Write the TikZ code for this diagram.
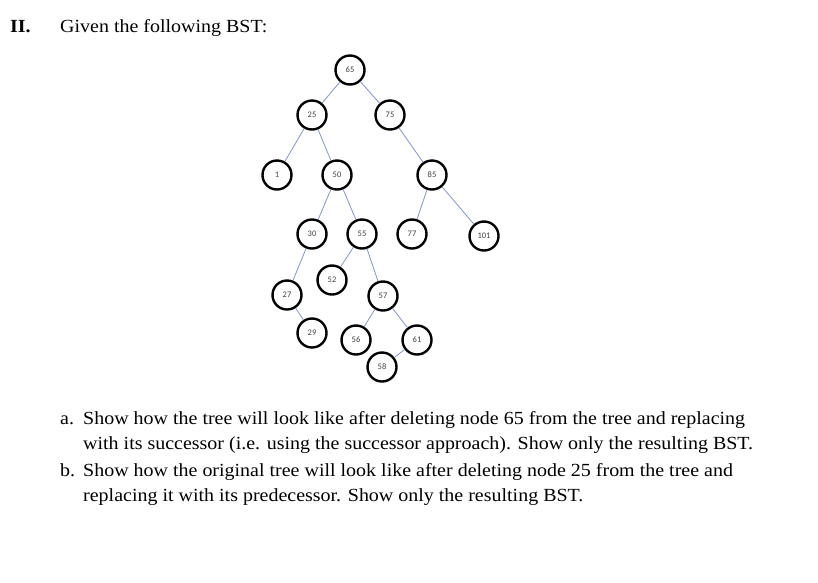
\documentclass[tikz,border=0pt]{standalone}
\usepackage{fontspec}
\setmainfont{Liberation Serif}[FakeStretch=1.08]
\newfontfamily\lbl{Carlito}
\definecolor{edgecol}{RGB}{125,150,205}
\begin{document}
\begin{tikzpicture}[x=1pt,y=-1pt,
  bn/.style={circle,draw=black,line width=2.4pt,minimum size=29pt,inner sep=0pt,font=\lbl\fontsize{8.5}{9}\selectfont,text=black!75},
  ed/.style={draw=edgecol,line width=0.8pt},
  tx/.style={anchor=base west,inner sep=0pt,font=\fontsize{18.5}{20}\selectfont}]
\useasboundingbox (0,0) rectangle (818,582);
\node[tx,font=\bfseries\fontsize{18.5}{20}\selectfont] (h1) at (10,32) {II.};
\node[tx] (h2) at (60,32) {Given the following BST:};
\node[bn] (n65) at (350,70) {65};
\node[bn] (n25) at (312,115) {25};
\node[bn] (n75) at (390,115) {75};
\node[bn] (n1) at (277,175) {1};
\node[bn] (n50) at (337,175) {50};
\node[bn] (n85) at (432,175) {85};
\node[bn] (n30) at (312,234) {30};
\node[bn] (n55) at (362,234) {55};
\node[bn] (n77) at (412,234) {77};
\node[bn] (n101) at (484,236) {101};
\node[bn] (n52) at (332,280) {52};
\node[bn] (n27) at (287,295) {27};
\node[bn] (n57) at (383,296) {57};
\node[bn] (n29) at (312,333) {29};
\node[bn] (n56) at (356,340) {56};
\node[bn] (n61) at (417,340) {61};
\node[bn] (n58) at (382,367) {58};
\foreach \a/\b in {65/25,65/75,25/1,25/50,75/85,85/77,85/101,50/30,50/55,30/27,27/29,55/52,55/57,57/56,57/61,61/58}
  \draw[ed] (n\a) -- (n\b);
\node[tx] (la) at (60,424) {a.};
\node[tx] (a1) at (83,424) {Show how the tree will look like after deleting node 65 from the tree and replacing};
\node[tx] (a2) at (83,449) {with its successor (i.e. using the successor approach). Show only the resulting BST.};
\node[tx] (lb) at (60,476) {b.};
\node[tx] (b1) at (83,476) {Show how the original tree will look like after deleting node 25 from the tree and};
\node[tx] (b2) at (83,501) {replacing it with its predecessor. Show only the resulting BST.};
\end{tikzpicture}
\end{document}
